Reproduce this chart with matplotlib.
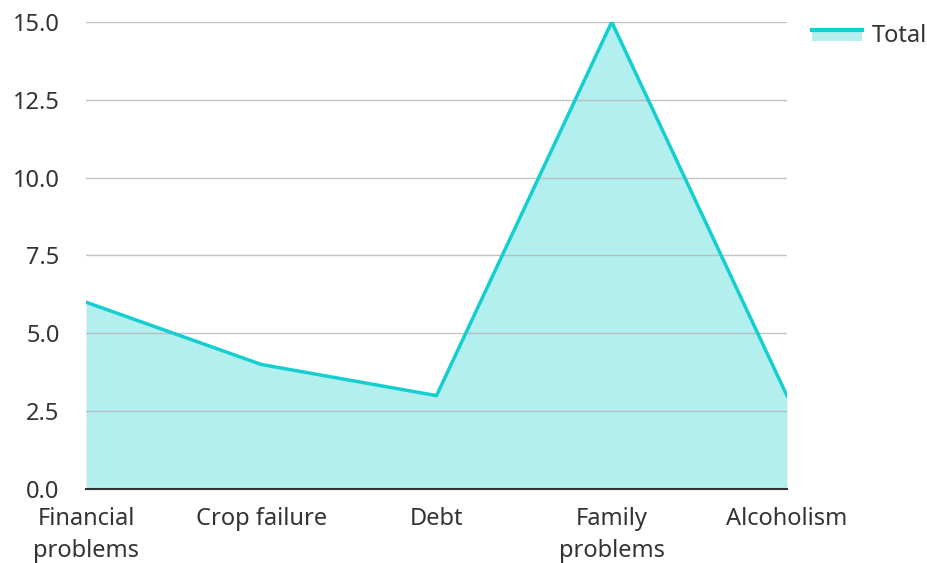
import matplotlib.pyplot as plt
from matplotlib.patches import Rectangle
from matplotlib.lines import Line2D
from matplotlib.legend_handler import HandlerBase
import numpy as np

categorias = ["Financial\nproblems", "Crop failure", "Debt", "Family\nproblems", "Alcoholism"]
total = [6, 4, 3, 15, 3]
yticks = [0.0, 2.5, 5.0, 7.5, 10.0, 12.5, 15.0]

linea = "#14cfcf"
relleno = "#b2efee"
texto = "#333333"

plt.rcParams['font.family'] = ['Noto Sans', 'DejaVu Sans']


# marca de la leyenda: linea arriba y relleno debajo
class HandlerArea(HandlerBase):
    def create_artists(self, legend, orig_handle, xdescent, ydescent, width, height, fontsize, trans):
        r = Rectangle((-xdescent, -ydescent), width, height * 0.75, facecolor=relleno,
                      edgecolor="none", transform=trans)
        l = Line2D([-xdescent, -xdescent + width], [height * 0.8, height * 0.8],
                   color=linea, linewidth=3, transform=trans)
        return [r, l]


fig = plt.figure(figsize=(9.28, 5.63), dpi=100)
ax = fig.add_axes([0.0927, 0.1314, 0.7553, 0.8296])

x = np.arange(len(categorias))
ax.fill_between(x, total, 0, color=relleno, zorder=1, linewidth=0)
ax.plot(x, total, color=linea, linewidth=2.5, zorder=3)

ax.set_xlim(0, len(categorias) - 1)
ax.set_ylim(0, 15)
ax.set_yticks(yticks)
ax.set_yticklabels(["%.1f" % v for v in yticks])
ax.set_xticks(x)
ax.set_xticklabels(categorias, linespacing=1.45)

ax.grid(True, axis="y", color="#b4b4b4", linewidth=1, alpha=0.8, zorder=2)
ax.set_axisbelow(False)
for s in ["top", "right", "left"]:
    ax.spines[s].set_visible(False)
ax.spines["bottom"].set_color(texto)
ax.spines["bottom"].set_linewidth(1.5)
ax.spines["bottom"].set_zorder(4)
ax.tick_params(axis="both", length=0, labelsize=17, colors=texto)
ax.tick_params(axis="y", pad=19)
ax.tick_params(axis="x", pad=13)

fig.legend(["area"], ["Total"], handler_map={str: HandlerArea()},
           loc="center left", bbox_to_anchor=(0.875, 0.936), frameon=False,
           fontsize=17, labelcolor=texto, handlelength=2.1, handleheight=0.6,
           handletextpad=0.42, borderaxespad=0, borderpad=0)

plt.savefig("out.png", dpi=100)
